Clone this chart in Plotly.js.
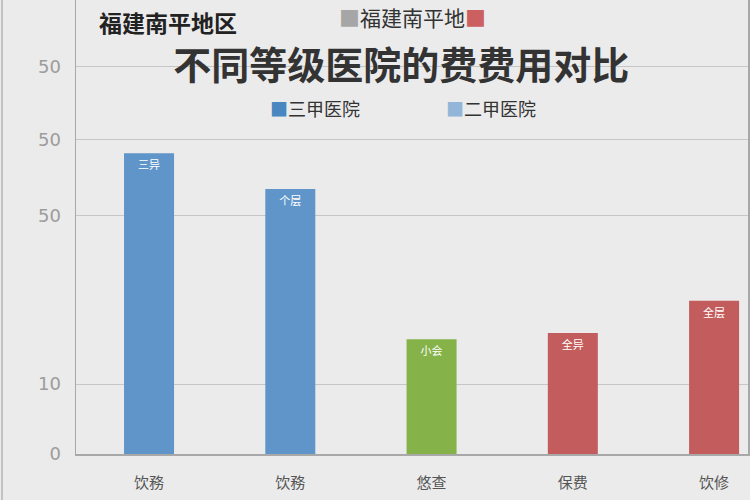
<!DOCTYPE html>
<html>
<head>
<meta charset="utf-8">
<script src="https://cdn.plot.ly/plotly-3.0.1.min.js"></script>
<style>
  html, body { margin: 0; padding: 0; background: #ebebeb; }
  #chart { width: 750px; height: 500px; }
</style>
</head>
<body>
<div id="chart"></div>
<script>
const CHART = document.getElementById('chart');

const FONT = '"Noto Sans CJK SC", "Noto Sans", sans-serif';
const BG = '#ebebeb';

// data
const categories = ['饮務', '饮務', '悠查', '保费', '饮修'];
const costs = [43.0, 37.9, 16.4, 17.3, 21.9];
const barLabels = ['三异', '个层', '小会', '全异', '全层'];
const barColors = ['#5f95c8', '#5f95c8', '#86b24a', '#c35c5c', '#c35c5c'];

// the y axis is labelled oddly in the picture
const yTickVals = [0, 10, 34.1, 44.9, 55.4];
const yTickText = ['0', '10', '50', '50', '50'];

const trace = {
    x: categories.map((c, i) => i),
    y: costs,
    type: 'bar',
    width: 0.354,
    marker: { color: barColors, line: { width: 0 } },
    text: barLabels,
    textposition: 'inside',
    insidetextanchor: 'end',
    textfont: { color: '#ffffff', size: 11, family: FONT },
    hoverinfo: 'none'
};

const layout = {
    width: 750,
    height: 500,
    paper_bgcolor: BG,
    plot_bgcolor: BG,
    showlegend: false,
    margin: { l: 76, r: 2, t: 0, b: 46 },
    font: { family: FONT },
    title: {
        text: '不同等级医院的费费用对比',
        font: { size: 38, color: '#333333', family: FONT, weight: 'bold' },
        x: 0.535,
        xanchor: 'center',
        y: 1 - 66 / 500,
        yanchor: 'middle'
    },
    xaxis: {
        range: [-0.517, 4.24],
        tickvals: categories.map((c, i) => i),
        ticktext: categories,
        showgrid: false,
        zeroline: false,
        showline: true,
        linecolor: '#a8a8a8',
        linewidth: 1.5,
        ticks: '',
        ticklabelstandoff: 14,
        tickfont: { size: 15, color: '#555555', family: FONT }
    },
    yaxis: {
        range: [0, 64.9],
        tickvals: yTickVals,
        ticktext: yTickText,
        showgrid: true,
        gridcolor: '#c6c6c6',
        gridwidth: 1,
        zeroline: false,
        showline: true,
        linecolor: '#a8a8a8',
        linewidth: 1.5,
        mirror: true,
        ticks: '',
        ticklabelstandoff: 10,
        tickfont: { size: 18, color: '#9c9c9c', family: 'DejaVu Sans, sans-serif' }
    },
    annotations: [
        {
            text: '福建南平地区',
            xref: 'paper', yref: 'paper',
            x: (97 - 76) / 672, y: (454 - 22) / 454,
            xanchor: 'left', yanchor: 'middle',
            showarrow: false,
            font: { size: 23, color: '#222222', family: FONT, weight: 'bold' }
        },
        {
            text: '<span style="color:#a6a6a6">■</span>福建南平地<span style="color:#cc5f5f">■</span>',
            xref: 'paper', yref: 'paper',
            x: (338 - 76) / 672, y: (454 - 17) / 454,
            xanchor: 'left', yanchor: 'middle',
            showarrow: false,
            borderpad: 0,
            font: { size: 21, color: '#333333', family: FONT }
        },
        {
            text: '<span style="color:#4a86c0">■</span>三甲医院',
            xref: 'paper', yref: 'paper',
            x: (268 - 76) / 672, y: (454 - 108) / 454,
            xanchor: 'left', yanchor: 'middle',
            showarrow: false,
            font: { size: 18, color: '#333333', family: FONT }
        },
        {
            text: '<span style="color:#93b6d8">■</span>二甲医院',
            xref: 'paper', yref: 'paper',
            x: (444 - 76) / 672, y: (454 - 108) / 454,
            xanchor: 'left', yanchor: 'middle',
            showarrow: false,
            font: { size: 18, color: '#333333', family: FONT }
        }
    ],
    shapes: [
        // thin frame line at the left edge of the page
        {
            type: 'line', xref: 'paper', yref: 'paper',
            x0: -74 / 672, x1: -74 / 672, y0: -46 / 454, y1: 1,
            line: { color: '#b4b4b4', width: 1.5 }
        }
    ]
};

Plotly.newPlot(CHART, [trace], layout, { displayModeBar: false, staticPlot: true });
</script>
</body>
</html>
